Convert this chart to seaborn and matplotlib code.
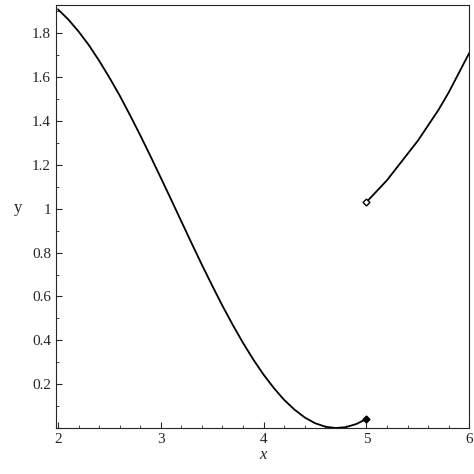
import matplotlib
matplotlib.use("Agg")
import matplotlib.pyplot as plt
import seaborn as sns
import numpy as np
from matplotlib.ticker import MultipleLocator, FuncFormatter

x1 = [2.0,2.1,2.2,2.3,2.4,2.5,2.6,2.7,2.8,2.9,3.0,3.1,3.2,3.3,3.4,3.5,3.6,3.7,3.8,3.9,
      4.0,4.1,4.2,4.3,4.4,4.5,4.6,4.7,4.8,4.9,5.0]
y1 = [1.909,1.863,1.808,1.746,1.675,1.598,1.516,1.427,1.335,1.239,1.141,1.042,0.942,0.842,
      0.744,0.649,0.557,0.470,0.388,0.312,0.243,0.182,0.128,0.084,0.048,0.022,0.006,0.000,
      0.004,0.018,0.041]
x2 = [5.0,5.1,5.2,5.3,5.4,5.5,5.6,5.7,5.8,5.9,6.0]
y2 = [1.03,1.08,1.13,1.19,1.25,1.31,1.38,1.45,1.53,1.62,1.71]

sns.set_style("ticks")
plt.rcParams['font.family'] = ['Liberation Serif', 'DejaVu Serif']
fig, ax = plt.subplots(figsize=(4.74, 4.74), dpi=100)
fig.subplots_adjust(left=0.118, right=0.99, top=0.99, bottom=0.097)

sns.lineplot(x=x1, y=y1, ax=ax, color='black', lw=1.3, sort=False)
sns.lineplot(x=x2, y=y2, ax=ax, color='black', lw=1.3, sort=False)
ax.plot([x1[-1]], [y1[-1]], marker='D', color='black', ms=3.5)
ax.plot([x2[0]], [y2[0]], marker='D', mfc='white', mec='black', ms=3.5, mew=1)

ax.set_xlim(1.98, 6.0)
ax.set_ylim(0.0, 1.93)
ax.xaxis.set_major_locator(MultipleLocator(1))
ax.xaxis.set_minor_locator(MultipleLocator(0.2))
ax.yaxis.set_major_locator(MultipleLocator(0.2))
ax.yaxis.set_minor_locator(MultipleLocator(0.1))
ax.yaxis.set_major_formatter(FuncFormatter(lambda v, p: ('%g' % round(v, 2)) if v > 0.01 else ''))
ax.tick_params(which='both', direction='in', labelsize=11)
ax.tick_params(which='major', length=4)
ax.tick_params(which='minor', length=2)
for s in ax.spines.values():
    s.set_linewidth(0.8)
ax.set_xlabel('x', fontstyle='italic', fontsize=12, labelpad=1)
ax.set_ylabel('y', rotation=0, fontsize=12, labelpad=10)
fig.savefig('out.png', dpi=100)
